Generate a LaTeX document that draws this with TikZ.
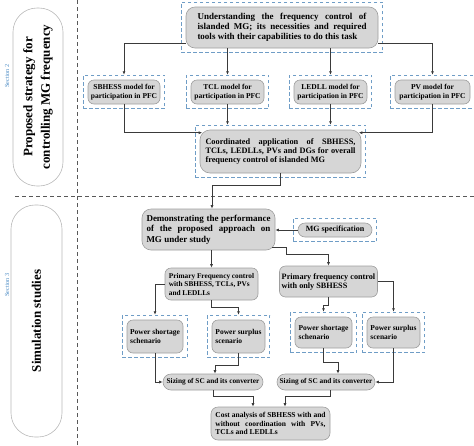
\documentclass[tikz,border=0pt]{standalone}
\usepackage{fontspec}
\setmainfont{Liberation Serif}
\usetikzlibrary{arrows.meta,fit}
\definecolor{boxfill}{HTML}{D6D6D6}
\definecolor{boxline}{HTML}{9E9E9E}
\definecolor{framec}{HTML}{6F9DC6}
\definecolor{linec}{HTML}{3A3A3A}
\definecolor{secc}{HTML}{4B8BC4}
\newcommand\jline[2]{\makebox[#1][s]{#2}}
\newcommand\fs[2]{\bfseries\fontsize{#1}{#2}\selectfont}

\begin{document}
\begin{tikzpicture}[x=1pt,y=-1pt,
    box/.style={draw=boxline,fill=boxfill,line width=0.6pt,rounded corners=6pt,inner sep=2pt,align=left,font=\fs{7.5}{9}},
    cbox/.style={box,align=center,font=\fs{7.5}{9.5},minimum height=24pt},
    dframe/.style={draw=framec,dash pattern=on 3.5pt off 2.5pt,line width=0.9pt,inner sep=4.5pt},
    arr/.style={draw=linec,line width=0.7pt,-{Latex[length=3.5pt,width=3pt]}},
    divider/.style={draw=linec!85,line width=0.8pt,dash pattern=on 4pt off 3pt},
    oval/.style={draw=gray!55,line width=0.6pt,rounded corners=24pt},
    sect/.style={rotate=90,text=secc,font=\fontsize{6.2}{7}\selectfont}]
  \useasboundingbox(0,0)rectangle(474,445);
  \draw[divider](77,0)--(77,445);
  \draw[divider](15,196)--(474,196);
  \draw[oval](13,8)rectangle(63,186);
  \draw[oval](11,205)rectangle(62,437);
  \node[rotate=90,align=center,font=\fs{13}{17.5}](strat)at(38,97){Proposed strategy for\\controlling MG frequency};
  \node[rotate=90,font=\fs{13}{15}](sim)at(36.5,321){Simulation studies};
  \node[sect](sec2)at(7,76){Section 2};
  \node[sect](sec3)at(7,285){Section 3};

  \node[box,font=\fs{9}{10},rounded corners=9pt,minimum width=192pt,minimum height=41pt](top)at(282,27.5){\jline{169pt}{Understanding the frequency control of}\\\jline{169pt}{islanded MG; its necessities and required}\\tools with their capabilities to do this task};
  \node[cbox,minimum width=72pt](sb)at(124,92){SBHESS model for\\participation in PFC};
  \node[cbox,minimum width=73pt](tcl)at(227.5,92){TCL model for\\participation in PFC};
  \node[cbox,minimum width=73pt](led)at(330.5,92){LEDLL model for\\participation in PFC};
  \node[cbox,minimum width=75pt](pv)at(432.5,92){PV model for\\participation in PFC};
  \node[box,font=\fs{8.3}{9.2},rounded corners=10pt,minimum width=161pt,minimum height=43pt](coord)at(280.5,151.5){\jline{150pt}{Coordinated application of SBHESS,}\\\jline{150pt}{TCLs, LEDLLs, PVs and DGs for overall}\\frequency control of islanded MG};
  \node[box,font=\fs{9}{10.5},rounded corners=9pt,minimum width=133pt,minimum height=41pt](demo)at(208.5,229.5){\jline{124pt}{Demonstrating the performance}\\\jline{124pt}{of the proposed approach on}\\MG under study};
  \node[box,font=\fs{8}{9},rounded corners=7pt,minimum width=74pt,minimum height=14pt](spec)at(335,230){MG specification};
  \node[box,font=\fs{7.3}{8.5},minimum width=93pt,minimum height=32pt](pa)at(211.5,284){Primary Frequency control\\with SBHESS, TCLs, PVs\\and LEDLLs};
  \node[box,font=\fs{8.2}{9},minimum width=98pt,minimum height=31pt](pb)at(328.5,281.5){Primary frequency control\\with only SBHESS};
  \node[box,minimum width=56pt,minimum height=33pt](sh1)at(155,336.5){Power shortage\\schenario};
  \node[box,minimum width=53pt,minimum height=33pt](su1)at(238.5,336.5){Power surplus\\scenario};
  \node[box,minimum width=57pt,minimum height=31pt](sh2)at(323.5,332.5){Power shortage\\schenario};
  \node[box,minimum width=53pt,minimum height=31pt](su2)at(393.5,332.5){Power surplus\\scenario};
  \node[box,font=\fs{7.3}{8.5},rounded corners=8pt,minimum width=100pt,minimum height=16pt](sz1)at(213,382){Sizing of SC and its converter};
  \node[box,font=\fs{7.3}{8.5},rounded corners=8pt,minimum width=98pt,minimum height=16pt](sz2)at(326,382){Sizing of SC and its converter};
  \node[box,font=\fs{7.5}{8.8},rounded corners=7pt,minimum width=119pt,minimum height=33pt](cost)at(270.5,423.5){Cost analysis of SBHESS with and\\\jline{110pt}{without coordination with PVs,}\\TCLs and LEDLLs};

  \node[dframe,fit=(top)](ftop){};
  \node[dframe,fit=(sb)](fsb){};
  \node[dframe,fit=(tcl)](ftcl){};
  \node[dframe,fit=(led)](fled){};
  \node[dframe,fit=(pv)](fpv){};
  \node[dframe,fit=(coord)](fcoord){};
  \node[dframe,fit=(spec)](fspec){};
  \node[dframe,fit=(sh1)](fsh1){};
  \node[dframe,fit=(su1)](fsu1){};
  \node[dframe,fit=(sh2)](fsh2){};
  \node[dframe,fit=(su2)](fsu2){};

  \draw[arr]([yshift=5pt]top.south west)-|(fsb);
  \draw[arr]([yshift=5pt]top.south east)-|(fpv);
  \draw[arr](tcl|-top.south)--(ftcl);
  \draw[arr](led|-top.south)--(fled);
  \draw[arr](sb)|-([xshift=2.5pt,yshift=-3pt]coord.north west);
  \draw[arr](pv)|-([xshift=-2.5pt,yshift=-3pt]coord.north east);
  \draw[arr](tcl)--(tcl|-fcoord.north);
  \draw[arr](led)--(led|-fcoord.north);
  \draw[arr](coord.south)--++(0,12)-|([xshift=3.5pt]demo.north);
  \draw[arr](spec)--(spec-|demo.east);
  \draw[arr](pa|-demo.south)--(pa);
  \draw[arr]([xshift=-3pt,yshift=3pt]demo.south east)--++(14,0)--++(0,7)-|(pb);
  \draw[arr](pa)-|(fsh1);
  \draw[arr](pa.south)--++(0,7)-|(fsu1);
  \draw[arr](pb.south)--++(0,8)-|(fsh2);
  \draw[arr](pb)-|(fsu2);
  \draw[arr](sh1)|-(sz1);
  \draw[arr](su1.south)--++(0,12)-|([xshift=2pt]sz1.north);
  \draw[arr](sh2.south)--++(0,14)-|([xshift=12pt]sz2.north);
  \draw[arr](su2)|-(sz2);
  \draw[arr](sz1.south)--++(0,6)-|([xshift=-17.5pt]cost.north);
  \draw[arr]([xshift=4pt]sz2.south)--++(0,6)-|([xshift=14.5pt]cost.north);
\end{tikzpicture}
\end{document}
